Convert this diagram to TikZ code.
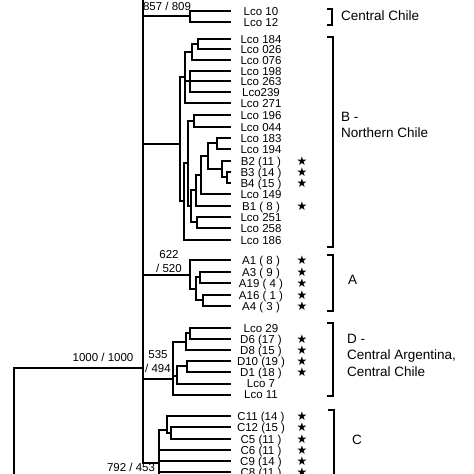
\documentclass[tikz,border=0pt]{standalone}
\usepackage{fontspec}
\setmainfont{Liberation Sans}
\newfontfamily\starfont{DejaVu Sans}

\begin{document}
\begin{tikzpicture}[x=1pt, y=-1pt,
   branch/.style={line width=1.7pt, line cap=rect},
   bracket/.style={line width=1.5pt},
   leaf/.style={font=\fontsize{11.5}{13}\selectfont, text depth=0pt, inner sep=0pt},
   starmark/.style={font=\starfont\fontsize{12}{12}\selectfont, inner sep=0pt},
   boot/.style={font=\fontsize{11.5}{14}\selectfont, align=center, inner sep=0pt},
   group/.style={font=\fontsize{13.5}{16.5}\selectfont, align=left, anchor=west, inner sep=0pt}]

\useasboundingbox (0,0) rectangle (474,474);
\clip (0,0) rectangle (474,474);

% tips and their labels
\foreach \n/\y/\lab in {l10/11/Lco 10, l12/22/Lco 12,
    l184/39/Lco 184, l026/49/Lco 026, l076/60/Lco 076, l198/71/Lco 198,
    l263/81/Lco 263, l239/92/Lco239, l271/103/Lco 271, l196/115/Lco 196,
    l044/127/Lco 044, l183/138/Lco 183, l194/149/Lco 194, B2/161/B2 (11 ),
    B3/172/B3 (14 ), B4/183/B4 (15 ), l149/194/Lco 149, B1/206/B1 ( 8 ),
    l251/217/Lco 251, l258/228/Lco 258, l186/240/Lco 186,
    A1/260/A1 ( 8 ), A3/272/A3 ( 9 ), A19/283/A19 ( 4 ), A16/295/A16 ( 1 ),
    A4/306/A4 ( 3 ),
    l29/328/Lco 29, D6/339/D6 (17 ), D8/350/D8 (15 ), D10/361/D10 (19 ),
    D1/372/D1 (18 ), l7/384/Lco 7, l11/395/Lco 11,
    C11/416/C11 (14 ), C12/427/C12 (15 ), C5/439/C5 (11 ), C6/450/C6 (11 ),
    C9/461/C9 (14 ), C8/472/C8 (11 )}
  {\coordinate (\n) at (230,\y);
   \node[leaf] (t\n) at (261,\y) {\lab};}

\foreach \n in {B2,B3,B4,B1,A1,A3,A19,A16,A4,D6,D8,D10,D1,C11,C12,C5,C6,C9,C8}
  \node[starmark, xshift=72pt] (s\n) at (\n) {★};

% inner nodes
\coordinate (root) at (14,500);
\coordinate (up) at (143,-10);
\coordinate (n0) at (143,368);
\coordinate (cc) at (190,16);
\coordinate (bb) at (180,144);
\coordinate (bu) at (185,77);
\coordinate (b1) at (192,52);
\coordinate (b2) at (198,44);
\coordinate (b3) at (190,81);
\coordinate (bl) at (184,201);
\coordinate (bm) at (188,163);
\coordinate (bn) at (194,121);
\coordinate (bo) at (191,206);
\coordinate (bp) at (196,190);
\coordinate (bq) at (197,222);
\coordinate (br) at (201,175);
\coordinate (bs) at (208,156);
\coordinate (bt) at (217,143);
\coordinate (bv) at (222,169);
\coordinate (bw) at (227,177);
\coordinate (aa) at (190,275);
\coordinate (ab) at (196,289);
\coordinate (ac) at (200,277);
\coordinate (ad) at (203,300);
\coordinate (dd) at (173,379);
\coordinate (de) at (186,342);
\coordinate (dg) at (190,333);
\coordinate (dh) at (177,376);
\coordinate (di) at (187,366);
\coordinate (c0) at (159,463);
\coordinate (c1) at (167,430);
\coordinate (c2) at (171,433);
\coordinate (down) at (159,500);

\draw[branch] (n0) -- (up);
\draw[branch] (c0) -- (down);
\foreach \p/\c in {root/n0, n0/cc, n0/bb, n0/aa, n0/dd, n0/c0,
    cc/l10, cc/l12,
    bb/bu, bb/bl, bu/b1, bu/b3, bu/l271, b1/b2, b1/l076, b2/l184, b2/l026,
    b3/l198, b3/l263, b3/l239,
    bl/bm, bl/l186, bm/bn, bm/bo, bn/l196, bn/l044, bo/bp, bo/bq,
    bq/l251, bq/l258, bp/br, bp/B1, br/bs, br/l149, bs/bt, bs/bv,
    bt/l183, bt/l194, bv/B2, bv/bw, bw/B3, bw/B4,
    aa/A1, aa/ab, ab/ac, ab/ad, ac/A3, ac/A19, ad/A16, ad/A4,
    dd/de, dd/dh, dd/l11, de/dg, de/D8, dg/l29, dg/D6, dh/di, dh/l7,
    di/D10, di/D1,
    c0/c1, c0/C6, c0/C9, c0/C8, c1/C11, c1/c2, c2/C12, c2/C5}
  \draw[branch] (\p) |- (\c);

% support values
\node[boot] (val857) at (167,6) {857 / 809};
\node[boot] (val622) at (169,262) {622\\/ 520};
\node[boot] (val535) at (158,362) {535\\/ 494};
\node[boot] (val1000) at (103,357) {1000 / 1000};
\node[boot] (val792) at (131,467) {792 / 453};

% groups
\draw[bracket] (327,9) -- (332,9) -- (332,25) -- (327,25);
\draw[bracket] (327,37) -- (333,37) -- (333,247) -- (327,247);
\draw[bracket] (327,255) -- (333,255) -- (333,311) -- (327,311);
\draw[bracket] (327,323) -- (333,323) -- (333,396) -- (327,396);
\draw[bracket] (328,410) -- (334,410) -- (334,500);
\node[group] (gcc) at (341,16) {Central Chile};
\node[group] (gb) at (341,125) {B -\\Northern Chile};
\node[group] (ga) at (348,280) {A};
\node[group] (gd) at (347,355) {D -\\Central Argentina,\\Central Chile};
\node[group] (gc) at (352,440) {C};

\end{tikzpicture}
\end{document}
